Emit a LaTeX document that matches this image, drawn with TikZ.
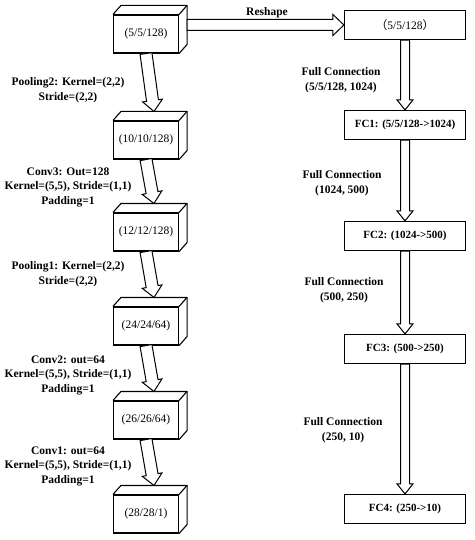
\documentclass[tikz,border=0pt]{standalone}
\usepackage{fontspec}
\setmainfont{Liberation Serif}
\newfontfamily\cjkfont{Noto Sans CJK SC}
\usetikzlibrary{calc}

% cube: front face node plus top and right faces
\newcommand{\cube}[3]{%
  \node[cube] (#1) at (#2) {#3};
  \draw[cubeline] (#1.north west) -- ++(8,-9) -- ($(#1.north east)+(8,-9)$) -- (#1.north east);
  \draw[cubeline] ($(#1.north east)+(8,-9)$) -- ($(#1.south east)+(8,-9)$) -- (#1.south east);
  \coordinate (#1-top) at ($(#1.north)+(8,-9)$);
  \coordinate (#1-side) at ($(#1.east)+(8,-9)$);
}

% hollow arrow: from, to, half shaft, half head, head length
\newcommand{\fatarrow}[5]{%
  \coordinate (hb) at ($(#2)!#5!(#1)$);
  \draw[fatline] ($(#1)!#3!90:(#2)$) -- ($(hb)!#3!90:(#2)$) -- ($(hb)!#4!90:(#2)$) -- (#2)
    -- ($(hb)!#4!-90:(#2)$) -- ($(hb)!#3!-90:(#2)$) -- ($(#1)!#3!-90:(#2)$) -- cycle;
}

\begin{document}
\begin{tikzpicture}[x=1pt, y=-1pt,
    cube/.style={draw, line width=1.1pt, fill=white, minimum width=65pt, minimum height=38pt,
      inner sep=0pt, font=\fontsize{11.5}{13}\selectfont},
    cubeline/.style={line width=1.1pt, line join=round},
    fcbox/.style={draw, line width=1.2pt, minimum width=121pt, minimum height=29pt,
      inner sep=0pt, font=\fontsize{11}{13}\selectfont\bfseries},
    fatline/.style={draw, fill=white, line width=1pt, line join=miter},
    lab/.style={align=center, font=\fontsize{11.5}{14.5}\selectfont\bfseries}]
  \useasboundingbox (0,0) rectangle (474,540);

  % left column
  \cube{c1}{146,34}{(5/5/128)}
  \cube{c2}{146,140}{(10/10/128)}
  \cube{c3}{146,232}{(12/12/128)}
  \cube{c4}{146,326}{(24/24/64)}
  \cube{c5}{146,420}{(26/26/64)}
  \cube{c6}{146,514}{(28/28/1)}

  \fatarrow{c1.south}{c2-top}{6pt}{10pt}{11pt}
  \fatarrow{c2.south}{c3-top}{6pt}{10pt}{11pt}
  \fatarrow{c3.south}{c4-top}{6pt}{10pt}{11pt}
  \fatarrow{c4.south}{c5-top}{6pt}{10pt}{11pt}
  \fatarrow{c5.south}{c6-top}{6pt}{10pt}{11pt}

  \node[lab] (l1) at (68,90) {Pooling2: Kernel=(2,2)\\Stride=(2,2)};
  \node[lab] (l2) at (68,187) {Conv3: Out=128\\Kernel=(5,5), Stride=(1,1)\\Padding=1};
  \node[lab] (l3) at (68,274) {Pooling1: Kernel=(2,2)\\Stride=(2,2)};
  \node[lab] (l4) at (68,375) {Conv2: out=64\\Kernel=(5,5), Stride=(1,1)\\Padding=1};
  \node[lab] (l5) at (68,466) {Conv1: out=64\\Kernel=(5,5), Stride=(1,1)\\Padding=1};

  % right column
  \node[fcbox, font=\fontsize{11.5}{13}\selectfont] (f0) at (405,25) {{\cjkfont （}5/5/128{\cjkfont ）}};
  \node[fcbox] (f1) at (405,125) {FC1: (5/5/128->1024)};
  \node[fcbox] (f2) at (405,236) {FC2: (1024->500)};
  \node[fcbox] (f3) at (405,349) {FC3: (500->250)};
  \node[fcbox] (f4) at (405,509) {FC4: (250->10)};

  \fatarrow{c1-side}{f0.west}{5.5pt}{10.5pt}{11pt}
  \fatarrow{f0.south}{f1.north}{4.5pt}{8pt}{10pt}
  \fatarrow{f1.south}{f2.north}{4.5pt}{8pt}{10pt}
  \fatarrow{f2.south}{f3.north}{4.5pt}{8pt}{10pt}
  \fatarrow{f3.south}{f4.north}{4.5pt}{8pt}{10pt}

  \node[lab] (reshape) at (267,13) {Reshape};
  \node[lab] (r1) at (341,80) {Full Connection\\(5/5/128, 1024)};
  \node[lab] (r2) at (342,183) {Full Connection\\(1024, 500)};
  \node[lab] (r3) at (344,290) {Full Connection\\(500, 250)};
  \node[lab] (r4) at (343,430) {Full Connection\\(250, 10)};
\end{tikzpicture}
\end{document}
